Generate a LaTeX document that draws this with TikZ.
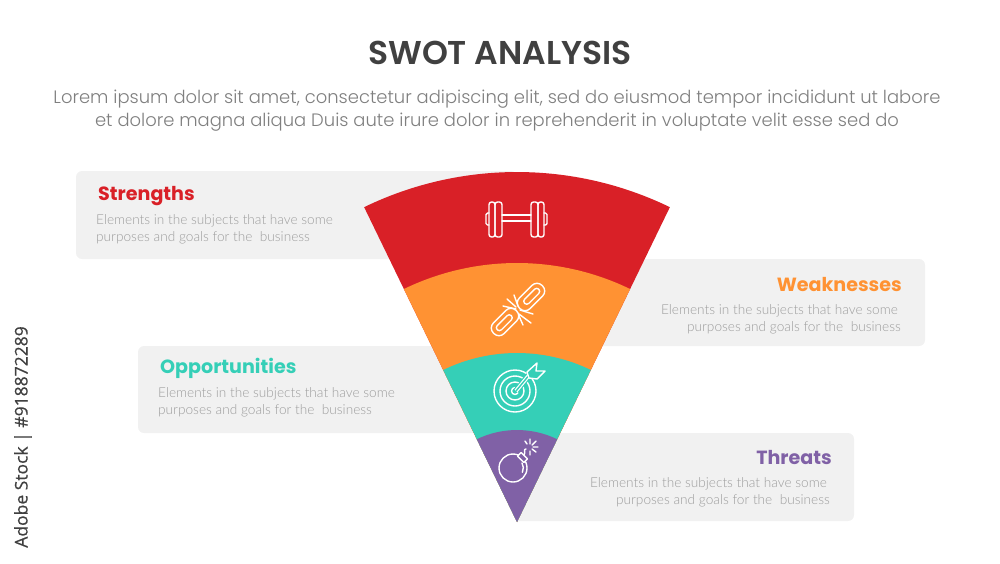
\documentclass[tikz,border=0pt]{standalone}
\usepackage{fontspec}
\setmainfont{Lato Light}
\newfontfamily\titlefont{Poppins SemiBold}
\newfontfamily\headfont{Poppins}[Scale=1,UprightFont=*-Bold]
\newfontfamily\subfont{Poppins Light}
\newfontfamily\stockfont{Open Sans}[FakeBold=0.5]
\usetikzlibrary{calc}
\definecolor{swotred}{HTML}{D92027}
\definecolor{swotorange}{HTML}{FF9233}
\definecolor{swotteal}{HTML}{35CFB7}
\definecolor{swotpurple}{HTML}{8061A6}
\definecolor{boxgrey}{HTML}{F1F1F1}
\definecolor{titlegrey}{HTML}{404040}
\definecolor{subgrey}{HTML}{7F7F7F}
\definecolor{bodygrey}{HTML}{9C9C9C}
\tikzset{
  panel/.style={fill=boxgrey,rounded corners=6pt},
  headtext/.style={inner sep=0pt,font=\headfont\fontsize{19.1}{21}\selectfont},
  bodytext/.style={inner sep=0pt,text=bodygrey,font=\fontsize{13.65}{17}\selectfont},
  iconline/.style={draw=white,line width=1.4pt,line cap=round,line join=round},
}
\begin{document}
\begin{tikzpicture}[x=1pt,y=-1pt]
  \useasboundingbox (0,0) rectangle (1000,563);
  \def\halfa{25.9}
  \coordinate (apex) at (517,522);
  % panels behind the fan
  \fill[panel] (76,171) rectangle (517,259);
  \fill[panel] (590,259) rectangle (925,346);
  \fill[panel] (138,346) rectangle (490,433);
  \fill[boxgrey] (517,433) -- (517,521) [rounded corners=6pt] -- (854,521) -- (854,433) [sharp corners] -- cycle;
  % fan
  \foreach \r/\c in {350/swotred,259/swotorange,169/swotteal,92/swotpurple}
    \fill[\c] (apex) -- ($(apex)+(-90-\halfa:\r)$) arc[start angle=-90-\halfa,end angle=-90+\halfa,radius=\r] -- cycle;
  % title
  \node[inner sep=0pt,anchor=base,text=titlegrey,font=\titlefont\fontsize{33}{35}\selectfont] (title) at (500,64) {SWOT ANALYSIS};
  \node[inner sep=0pt,anchor=base,text=subgrey,font=\subfont\fontsize{17.95}{23}\selectfont] (line1) at (497,103) {Lorem ipsum dolor sit amet, consectetur adipiscing elit, sed do eiusmod tempor incididunt ut labore};
  \node[inner sep=0pt,anchor=base,text=subgrey,font=\subfont\fontsize{17.95}{23}\selectfont] (line2) at (497,126) {et dolore magna aliqua Duis aute irure dolor in reprehenderit in voluptate velit esse sed do};
  % strengths
  \node[headtext,anchor=base west,text=swotred] (strengths) at (98,200) {Strengths};
  \node[bodytext,anchor=north west,align=left] (strengthsbody) at (96,214) {Elements in the subjects that have some\\purposes and goals for the\ \ business};
  % weaknesses
  \node[headtext,anchor=base east,text=swotorange] (weaknesses) at (902,291) {Weaknesses};
  \node[bodytext,anchor=north east,align=right] (weaknessesbody) at (901,304) {Elements in the subjects that have some\hspace*{3pt}\\purposes and goals for the\ \ business};
  % opportunities
  \node[headtext,anchor=base west,text=swotteal] (opportunities) at (160,373) {Opportunities};
  \node[bodytext,anchor=north west,align=left] (opportunitiesbody) at (158,387) {Elements in the subjects that have some\\purposes and goals for the\ \ business};
  % threats
  \node[headtext,anchor=base east,text=swotpurple] (threats) at (832,464) {Threats};
  \node[bodytext,anchor=north east,align=right] (threatsbody) at (830,477) {Elements in the subjects that have some\hspace*{3pt}\\purposes and goals for the\ \ business};
  % dumbbell
  \draw[iconline,rounded corners=1.5pt] (489,213) -- (486,213) -- (486,225) -- (489,225);
  \draw[iconline,rounded corners=2.5pt] (489,202) rectangle (495,237);
  \draw[iconline,rounded corners=2.5pt] (495,202) rectangle (502,237);
  \draw[iconline] (502,215) -- (531,215) (502,221) -- (531,221);
  \draw[iconline,rounded corners=2.5pt] (531,202) rectangle (538,237);
  \draw[iconline,rounded corners=2.5pt] (538,202) rectangle (544,237);
  \draw[iconline,rounded corners=1.5pt] (544,213) -- (547,213) -- (547,225) -- (544,225);
  % broken chain
  \begin{scope}[shift={(531,297)},rotate=45]
    \draw[iconline,rounded corners=7pt] (-16,-7.5) rectangle (16,7.5);
    \draw[iconline,rounded corners=3pt] (-9,-3) rectangle (11,3);
  \end{scope}
  \begin{scope}[shift={(505,322)},rotate=45]
    \draw[iconline,rounded corners=7pt] (-16,-7.5) rectangle (16,7.5);
    \draw[iconline,rounded corners=3pt] (-11,-3) rectangle (9,3);
  \end{scope}
  \draw[iconline] (503,306) -- (516,309) (507,299) -- (516,307) (514,295) -- (518,306);
  \draw[iconline] (520,310) -- (533,314) (519,314) -- (531,323) (519,316) -- (523,325);
  % target
  \foreach \r in {21,15,9,3.5}
    \draw[iconline] (515,391) circle[radius=\r];
  \draw[swotteal,line width=6pt] (516,391) -- (530,374);
  \draw[white,line width=3.8pt] (516,391) -- (530,374);
  \draw[swotteal,line width=1.4pt] (516,391) -- (530,374);
  \fill[swotteal] (527,372) -- (537,363) -- (536,371) -- (545,371) -- (537,379) -- (529,378) -- cycle;
  \draw[iconline] (527,372) -- (537,363) -- (536,371) -- (545,371) -- (537,379) -- (529,378) -- cycle;
  % bomb
  \draw[iconline] (513,468) circle[radius=14];
  \draw[iconline] (522,463) arc[start angle=-30,end angle=25,radius=10];
  \begin{scope}[shift={(522.5,457.5)},rotate=-45]
    \fill[swotpurple] (-4.5,-2.5) rectangle (4.5,2.5);
    \draw[iconline] (-4.5,-2.5) rectangle (4.5,2.5);
  \end{scope}
  \draw[iconline] (524,455) .. controls (526,452) and (523,449) .. (526,449);
  \draw[iconline] (530,439) -- (530,444) (536,441) -- (532,445) (538,447) -- (533,447) (536,452) -- (532,449) (530,455) -- (530,451) (525,441) -- (527,444);
  % stock line
  \node[rotate=90,inner sep=0pt,anchor=center,text=titlegrey,font=\stockfont\fontsize{17.5}{20}\selectfont] (stock) at (23,437) {Adobe Stock | \#918872289};
\end{tikzpicture}
\end{document}
